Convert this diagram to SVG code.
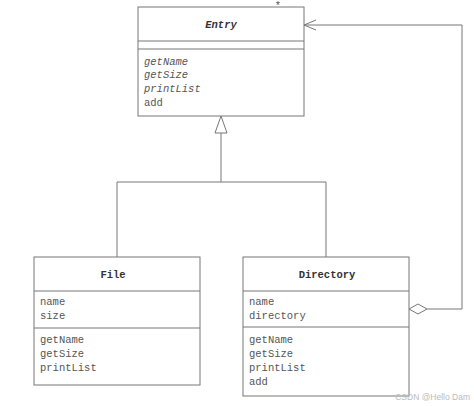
<svg xmlns="http://www.w3.org/2000/svg" width="474" height="406" viewBox="0 0 474 406">
<style>
.box{fill:#fff;stroke:#777;stroke-width:1}
.ln{fill:none;stroke:#777;stroke-width:1}
.t{font-family:"Liberation Mono",monospace;font-size:10.5px;fill:#555}
.ti{font-style:italic}
.h{font-weight:bold;text-anchor:middle;fill:#333}
</style>
<rect width="474" height="406" fill="#fff"/>
<g id="connectors">
<polyline class="ln" points="221,133 221,182"/>
<polyline class="ln" points="117,257 117,182 326,182 326,257"/>
<polygon class="ln" points="221,116 215,133 227,133"/>
<polyline class="ln" points="427,309 462,309 462,25 304,25"/>
<polyline class="ln" points="316,20 304,25 316,30"/>
<polygon class="ln" points="409,309 418,304 427,309 418,314"/>
<text class="t" x="278" y="9" text-anchor="middle">*</text>
</g>
<g id="Entry">
<rect class="box" x="138" y="7" width="166" height="109"/>
<line class="ln" x1="138" y1="41" x2="304" y2="41"/>
<line class="ln" x1="138" y1="49" x2="304" y2="49"/>
<text class="t h ti" x="221" y="28">Entry</text>
<text class="t ti" x="144" y="65">getName</text>
<text class="t ti" x="144" y="78">getSize</text>
<text class="t ti" x="144" y="92">printList</text>
<text class="t" x="144" y="106">add</text>
</g>
<g id="File">
<rect class="box" x="34" y="257" width="166" height="128"/>
<line class="ln" x1="34" y1="291" x2="200" y2="291"/>
<line class="ln" x1="34" y1="328" x2="200" y2="328"/>
<text class="t h" x="113" y="278">File</text>
<text class="t" x="40" y="305">name</text>
<text class="t" x="40" y="319">size</text>
<text class="t" x="40" y="343">getName</text>
<text class="t" x="40" y="357">getSize</text>
<text class="t" x="40" y="371">printList</text>
</g>
<g id="Directory">
<rect class="box" x="243" y="257" width="166" height="139"/>
<line class="ln" x1="243" y1="291" x2="409" y2="291"/>
<line class="ln" x1="243" y1="327" x2="409" y2="327"/>
<text class="t h" x="327" y="278">Directory</text>
<text class="t" x="249" y="305">name</text>
<text class="t" x="249" y="319">directory</text>
<text class="t" x="249" y="343">getName</text>
<text class="t" x="249" y="357">getSize</text>
<text class="t" x="249" y="371">printList</text>
<text class="t" x="249" y="385">add</text>
</g>
<text x="470" y="400" text-anchor="end" font-family="Liberation Sans,sans-serif" font-size="8.5" fill="#bbb">CSDN @Hello Dam</text>
</svg>
